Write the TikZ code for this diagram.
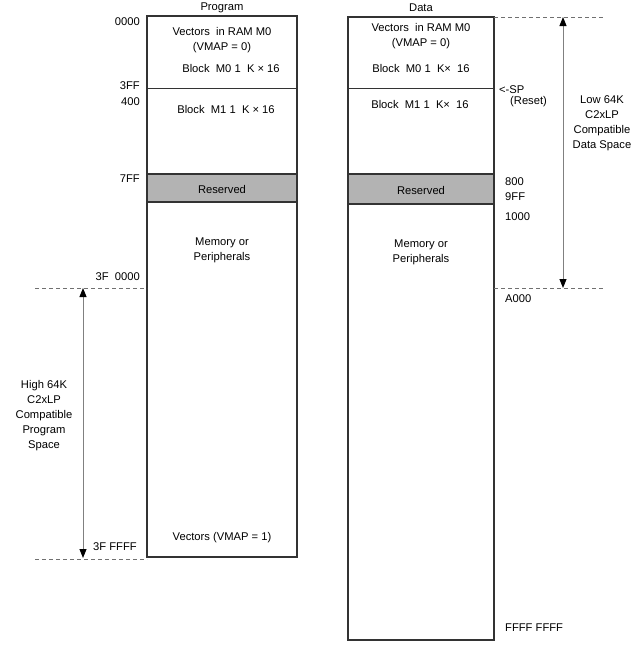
\documentclass[tikz,border=0pt]{standalone}
\usepackage{fontspec}
\setmainfont{Liberation Sans}
\usetikzlibrary{arrows.meta}
\definecolor{boxc}{HTML}{333333}
\definecolor{resgray}{HTML}{B3B3B3}
\definecolor{dashc}{HTML}{707070}
\definecolor{arrc}{HTML}{808080}
\begin{document}
\begin{tikzpicture}[x=1pt,y=-1pt,
  lbl/.style={font=\fontsize{11.2}{15}\selectfont, inner sep=0pt, align=center},
  lblr/.style={lbl, anchor=east},
  lbll/.style={lbl, anchor=west},
  boxline/.style={draw=boxc, line width=1.3pt},
  sepline/.style={draw=boxc, line width=0.9pt},
  dashline/.style={draw=dashc, line width=0.8pt, dash pattern=on 4pt off 3pt},
  spanarrow/.style={draw=arrc, line width=1pt, {Triangle[length=9pt,width=7pt,color=black]}-{Triangle[length=9pt,width=7pt,color=black]}, shorten <=0pt, shorten >=0pt}
]
\useasboundingbox (0,0) rectangle (640,651);

% Program column
\coordinate (pTL) at (147,16);
\coordinate (pBR) at (297,557);
\draw[boxline] (pTL) rectangle (pBR);
\draw[sepline] (147,88) -- (297,88);
\draw[boxline, fill=resgray] (147,174) rectangle (297,202);
\node[lbl] (ptitle) at (222,8) {Program};
\node[lbl] (pvec) at (222,40) {Vectors\ \ in RAM M0\\(VMAP = 0)};
\node[lbl] (pm0) at (231,68) {Block\ \ M0 1\ \ K × 16};
\node[lbl] (pm1) at (226,109) {Block\ \ M1 1\ \ K × 16};
\node[lbl] (pres) at (222,189) {Reserved};
\node[lbl] (pmem) at (222,250) {Memory or\\Peripherals};
\node[lbl] (pvec1) at (222,538) {Vectors (VMAP = 1)};

\node[lblr] (a0000) at (140,22) {0000};
\node[lblr] (a3ff) at (140,86) {3FF};
\node[lblr] (a400) at (140,102) {400};
\node[lblr] (a7ff) at (140,179) {7FF};
\node[lblr] (a3f0) at (140,277) {3F\ \ 0000};
\node[lbll] (a3ff2) at (93,547) {3F FFFF};

% Data column
\coordinate (dTL) at (348,17);
\coordinate (dBR) at (494,640);
\draw[boxline] (dTL) rectangle (dBR);
\draw[sepline] (348,88) -- (494,88);
\draw[boxline, fill=resgray] (348,174) rectangle (494,204);
\node[lbl] (dtitle) at (421,8) {Data};
\node[lbl] (dvec) at (421,36) {Vectors\ \ in RAM M0\\(VMAP = 0)};
\node[lbl] (dm0) at (421,68) {Block\ \ M0 1\ \ K×\ \ 16};
\node[lbl] (dm1) at (420,104) {Block\ \ M1 1\ \ K×\ \ 16};
\node[lbl] (dres) at (421,190) {Reserved};
\node[lbl] (dmem) at (421,252) {Memory or\\Peripherals};

\node[lbll] (sp) at (499,90) {<-SP};
\node[lbll] (reset) at (510,102) {(Reset)};
\node[lbll] (d800) at (505,182) {800};
\node[lbll] (d9ff) at (505,197) {9FF};
\node[lbll] (d1000) at (505,217) {1000};
\node[lbll] (da000) at (505,299) {A000};
\node[lbll] (dffff) at (505,628) {FFFF FFFF};

% dashed boundaries
\coordinate (r1a) at (494,17);  \coordinate (r1b) at (603,17);
\coordinate (r2a) at (494,288); \coordinate (r2b) at (603,288);
\coordinate (l1a) at (35,288);  \coordinate (l1b) at (147,288);
\coordinate (l2a) at (35,559);  \coordinate (l2b) at (147,559);
\draw[dashline] (r1a) -- (r1b);
\draw[dashline] (r2a) -- (r2b);
\draw[dashline] (l1a) -- (l1b);
\draw[dashline] (l2a) -- (l2b);

% span arrows
\coordinate (ra) at (563,17);
\coordinate (rb) at (563,288);
\draw[spanarrow] (ra) -- (rb);
\coordinate (la) at (83,288);
\coordinate (lb) at (83,558);
\draw[spanarrow] (la) -- (lb);

\node[lbl] (lowtxt) at (602,123) {Low 64K\\C2xLP\\Compatible\\Data Space};
\node[lbl] (hightxt) at (44,416) {High 64K\\C2xLP\\Compatible\\Program\\Space};
\end{tikzpicture}
\end{document}
